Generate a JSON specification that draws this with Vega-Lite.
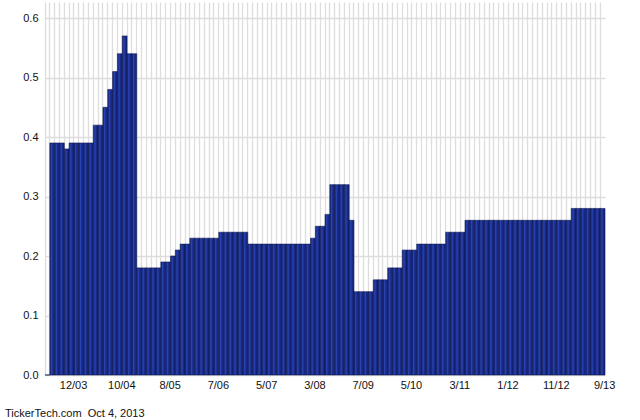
{
  "$schema": "https://vega.github.io/schema/vega-lite/v6.json",
  "autosize": "none",
  "padding": {"left": 45, "top": 2, "right": 35, "bottom": 45},
  "width": 560,
  "height": 373,
  "background": "white",
  "config": {
    "view": {"stroke": null},
    "font": "Liberation Sans",
    "axis": {"labelFont": "Liberation Sans", "labelFontSize": 11, "labelColor": "#111111", "gridColor": "#dddddd", "gridWidth": 1.3}
  },
  "title": {
    "text": "TickerTech.com\u00a0\u00a0Oct\u00a04,\u00a02013",
    "orient": "bottom",
    "anchor": "start",
    "frame": "group",
    "dx": -40,
    "offset": 18,
    "font": "Liberation Sans",
    "fontSize": 11,
    "fontWeight": "normal",
    "color": "#111111"
  },
  "data": {
    "values": [
      {"m": "7/03", "v": 0},
      {"m": "8/03", "v": 0.39}, {"m": "9/03", "v": 0.39}, {"m": "10/03", "v": 0.39},
      {"m": "11/03", "v": 0.38},
      {"m": "12/03", "v": 0.39}, {"m": "1/04", "v": 0.39}, {"m": "2/04", "v": 0.39}, {"m": "3/04", "v": 0.39}, {"m": "4/04", "v": 0.39},
      {"m": "5/04", "v": 0.42}, {"m": "6/04", "v": 0.42},
      {"m": "7/04", "v": 0.45},
      {"m": "8/04", "v": 0.48},
      {"m": "9/04", "v": 0.51},
      {"m": "10/04", "v": 0.54},
      {"m": "11/04", "v": 0.57},
      {"m": "12/04", "v": 0.54}, {"m": "1/05", "v": 0.54},
      {"m": "2/05", "v": 0.18}, {"m": "3/05", "v": 0.18}, {"m": "4/05", "v": 0.18}, {"m": "5/05", "v": 0.18}, {"m": "6/05", "v": 0.18},
      {"m": "7/05", "v": 0.19}, {"m": "8/05", "v": 0.19},
      {"m": "9/05", "v": 0.20},
      {"m": "10/05", "v": 0.21},
      {"m": "11/05", "v": 0.22}, {"m": "1/06", "v": 0.22},
      {"m": "2/06", "v": 0.23}, {"m": "3/06", "v": 0.23}, {"m": "4/06", "v": 0.23}, {"m": "5/06", "v": 0.23}, {"m": "6/06", "v": 0.23}, {"m": "7/06", "v": 0.23},
      {"m": "8/06", "v": 0.24}, {"m": "9/06", "v": 0.24}, {"m": "10/06", "v": 0.24}, {"m": "11/06", "v": 0.24}, {"m": "12/06", "v": 0.24}, {"m": "1/07", "v": 0.24},
      {"m": "2/07", "v": 0.22}, {"m": "3/07", "v": 0.22}, {"m": "4/07", "v": 0.22}, {"m": "5/07", "v": 0.22}, {"m": "6/07", "v": 0.22},
      {"m": "7/07", "v": 0.22}, {"m": "8/07", "v": 0.22}, {"m": "9/07", "v": 0.22}, {"m": "10/07", "v": 0.22}, {"m": "11/07", "v": 0.22},
      {"m": "12/07", "v": 0.22}, {"m": "1/08", "v": 0.22}, {"m": "2/08", "v": 0.22},
      {"m": "3/08", "v": 0.23},
      {"m": "4/08", "v": 0.25}, {"m": "5/08", "v": 0.25},
      {"m": "6/08", "v": 0.27},
      {"m": "7/08", "v": 0.32}, {"m": "8/08", "v": 0.32}, {"m": "9/08", "v": 0.32}, {"m": "10/08", "v": 0.32},
      {"m": "11/08", "v": 0.26},
      {"m": "6/09", "v": 0.14}, {"m": "7/09", "v": 0.14}, {"m": "8/09", "v": 0.14}, {"m": "9/09", "v": 0.14},
      {"m": "10/09", "v": 0.16}, {"m": "11/09", "v": 0.16}, {"m": "12/09", "v": 0.16},
      {"m": "1/10", "v": 0.18}, {"m": "2/10", "v": 0.18}, {"m": "3/10", "v": 0.18},
      {"m": "4/10", "v": 0.21}, {"m": "5/10", "v": 0.21}, {"m": "6/10", "v": 0.21},
      {"m": "7/10", "v": 0.22}, {"m": "8/10", "v": 0.22}, {"m": "9/10", "v": 0.22}, {"m": "10/10", "v": 0.22}, {"m": "11/10", "v": 0.22}, {"m": "12/10", "v": 0.22},
      {"m": "1/11", "v": 0.24}, {"m": "2/11", "v": 0.24}, {"m": "3/11", "v": 0.24}, {"m": "4/11", "v": 0.24},
      {"m": "5/11", "v": 0.26}, {"m": "6/11", "v": 0.26}, {"m": "7/11", "v": 0.26}, {"m": "8/11", "v": 0.26}, {"m": "9/11", "v": 0.26},
      {"m": "10/11", "v": 0.26}, {"m": "11/11", "v": 0.26}, {"m": "12/11", "v": 0.26}, {"m": "1/12", "v": 0.26}, {"m": "2/12", "v": 0.26},
      {"m": "3/12", "v": 0.26}, {"m": "4/12", "v": 0.26}, {"m": "5/12", "v": 0.26}, {"m": "6/12", "v": 0.26}, {"m": "7/12", "v": 0.26},
      {"m": "8/12", "v": 0.26}, {"m": "9/12", "v": 0.26}, {"m": "10/12", "v": 0.26}, {"m": "11/12", "v": 0.26}, {"m": "12/12", "v": 0.26},
      {"m": "1/13", "v": 0.26}, {"m": "2/13", "v": 0.26},
      {"m": "3/13", "v": 0.28}, {"m": "4/13", "v": 0.28}, {"m": "5/13", "v": 0.28}, {"m": "6/13", "v": 0.28}, {"m": "7/13", "v": 0.28},
      {"m": "8/13", "v": 0.28}, {"m": "9/13", "v": 0.28}
    ]
  },
  "mark": {
    "type": "bar",
    "stroke": "#0f1a52",
    "strokeWidth": 0.6,
    "fill": {
      "gradient": "linear",
      "x1": 0, "x2": 1, "y1": 0, "y2": 0,
      "stops": [
        {"offset": 0, "color": "#14216b"},
        {"offset": 0.35, "color": "#2743b5"},
        {"offset": 0.6, "color": "#1b2d8c"},
        {"offset": 1, "color": "#14216b"}
      ]
    }
  },
  "encoding": {
    "x": {
      "field": "m",
      "type": "ordinal",
      "sort": null,
      "title": null,
      "scale": {"paddingInner": 0, "paddingOuter": 0},
      "axis": {
        "bandPosition": 0,
        "grid": true,
        "ticks": false,
        "domain": false,
        "labelAngle": 0,
        "labelOverlap": false,
        "labelPadding": 4,
        "labelBound": false,
        "labelFlush": false,
        "labelAlign": "center",
        "labelOffset": 2,
        "labelExpr": "indexof(['12/03','10/04','8/05','7/06','5/07','3/08','7/09','5/10','3/11','1/12','11/12','9/13'], datum.label) >= 0 ? datum.label : ''"
      }
    },
    "y": {
      "field": "v",
      "type": "quantitative",
      "title": null,
      "scale": {"domain": [0, 0.627], "nice": false, "zero": true},
      "axis": {
        "values": [0, 0.1, 0.2, 0.3, 0.4, 0.5, 0.6],
        "format": ".1f",
        "grid": true,
        "ticks": false,
        "domain": false,
        "labelPadding": 7
      }
    }
  }
}
